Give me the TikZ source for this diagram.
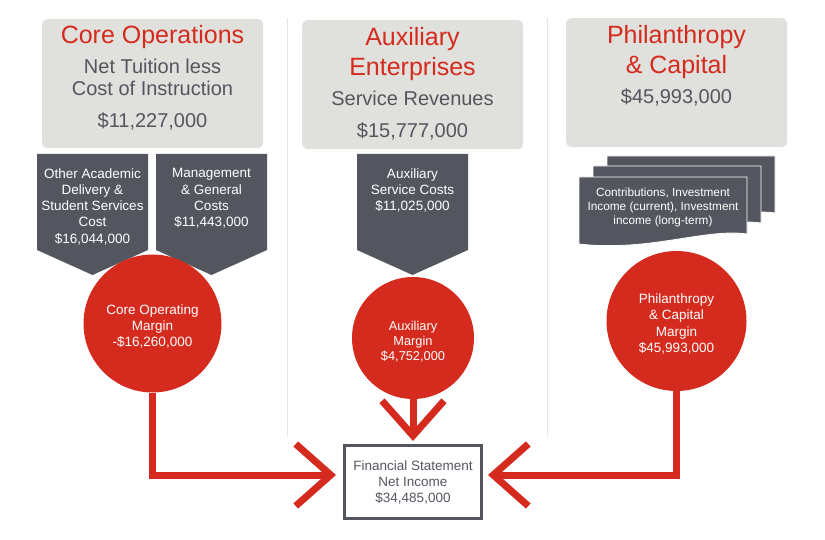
\documentclass[tikz,border=0pt]{standalone}
\usepackage{fontspec}
\setmainfont{Liberation Sans}
\usetikzlibrary{arrows.meta}

\definecolor{ured}{HTML}{D52B1E}
\definecolor{slate}{HTML}{53565E}
\definecolor{panel}{HTML}{E0E0DC}
\definecolor{rulegray}{HTML}{E6E6E6}

\newcommand{\fsz}[2]{\fontsize{#1}{#2}\selectfont}
\newcommand{\lift}{\rule{0pt}{16pt}}
% pentagon pointing down, #1 centre x, #2 node name, #3 last baseline, #4 text
\newcommand{\costpent}[4]{\fill[slate] (#1-55.5,154) -- (#1+55.5,154) -- (#1+55.5,250) -- (#1,275) -- (#1-55.5,250) -- cycle;
\node[costtext] (#2) at (#1,#3) {#4};}
% one sheet of the document stack, #1 #2 top left corner
\newcommand{\docsheet}[2]{\filldraw[fill=slate, draw=white, line width=0.8pt] (#1,#2) -- ++(168,0) -- ++(0,57) .. controls +(-42,-6) and +(71,8) .. ++(-168,10) -- cycle;}

\tikzset{
  headbox/.style = {fill=panel, rounded corners=5pt, minimum width=221pt, minimum height=129pt, anchor=north west, inner sep=0pt},
  headtitle/.style = {text=ured, align=center, font=\fsz{25}{30}, anchor=base, inner sep=0pt},
  headsub/.style = {text=slate, align=center, font=\fsz{20}{22}, anchor=base, inner sep=0pt},
  costtext/.style = {text=white, align=center, font=\fsz{13.5}{16.3}, anchor=base, inner sep=0pt},
  margin/.style = {circle, fill=ured, text=white, align=center, font=\fsz{13.5}{16.3}, inner sep=0pt},
  flow/.style = {ured, line width=7pt, line join=miter, -{Straight Barb[length=35pt,width=62pt,sharp]}},
}

\begin{document}
\begin{tikzpicture}[x=1pt, y=-1pt]
\useasboundingbox (0,0) rectangle (825,540);

% column rules
\draw[rulegray, line width=1pt] (287,18) -- (287,437);
\draw[rulegray, line width=1pt] (547,18) -- (547,437);

% header panels
\node[headbox] (corepanel) at (42,19) {};
\node[headbox] (auxpanel) at (302,20) {};
\node[headbox] (philpanel) at (566,18) {};

\node[headtitle] (coretitle) at (152.5,44) {Core Operations};
\node[headsub] (coresub) at (152.5,96) {Net Tuition less\\Cost of Instruction};
\node[headsub] (coreamt) at (152.5,128) {\$11,227,000};

\node[headtitle] (auxtitle) at (412.5,76) {Auxiliary\\Enterprises};
\node[headsub] (auxsub) at (412.5,106) {Service Revenues};
\node[headsub] (auxamt) at (412.5,138) {\$15,777,000};

\node[headtitle] (philtitle) at (676.5,74) {Philanthropy\\\& Capital};
\node[headsub] (philamt) at (676.5,104) {\$45,993,000};

% cost pentagons
\costpent{92.5}{acadcost}{243.2}{Other Academic\\Delivery \&\\Student Services\\Cost\\\$16,044,000}
\costpent{211.5}{mgmtcost}{226.9}{Management\\\& General\\Costs\\\$11,443,000}
\costpent{412.5}{auxcost}{211}{Auxiliary\\Service Costs\\\$11,025,000}

% document stack
\docsheet{607}{156}
\docsheet{593}{166}
\docsheet{579}{177}
\node[text=white, align=center, font=\fsz{11.8}{14}, inner sep=0pt] (giving) at (663,207)
  {Contributions, Investment\\Income (current), Investment\\income (long-term)};

% margins
\node[margin, minimum size=138pt] (coremargin) at (152.5,323.5) {\lift Core Operating\\Margin\\-\$16,260,000};
\node[margin, minimum size=122pt, font=\fsz{12.8}{15}] (auxmargin) at (413,338) {\lift Auxiliary\\Margin\\\$4,752,000};
\node[margin, minimum size=140pt] (philmargin) at (676.5,321) {\lift Philanthropy\\\& Capital\\Margin\\\$45,993,000};

% net income
\node[draw=slate, line width=3pt, minimum width=137pt, minimum height=73pt, text=slate, align=center,
  font=\fsz{13.5}{16}, inner sep=0pt] (netbox) at (413,482) {Financial Statement\\Net Income\\\$34,485,000};

% flows into net income
\draw[flow] (coremargin.south) |- ([xshift=-7pt,yshift=7pt]netbox.west);
\draw[flow] (auxmargin.south) -- ([yshift=3pt]netbox.north);
\draw[flow] (philmargin.south) |- ([xshift=5pt,yshift=7pt]netbox.east);
\end{tikzpicture}
\end{document}
